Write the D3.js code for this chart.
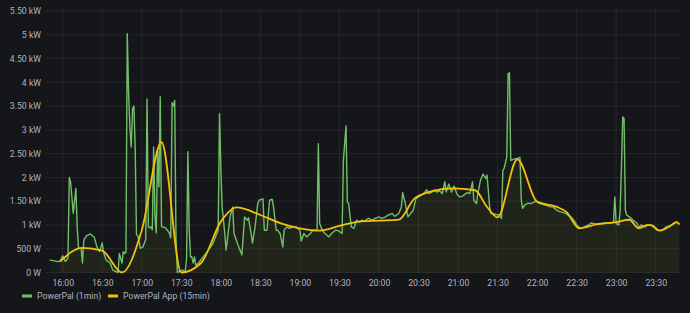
<!DOCTYPE html>
<html>
<head>
<meta charset="utf-8">
<script src="https://cdn.jsdelivr.net/npm/d3@7"></script>
<style>
  html, body { margin: 0; padding: 0; background: #141619; }
  svg { display: block; }
  text { font-family: Roboto, Inter, "Noto Sans", sans-serif; }
</style>
</head>
<body>
<div id="chart"></div>
<script>
// PowerPal (1min) readings, W
var palTimes = ["15:50","15:53","15:56","15:58","16:00","16:02","16:04","16:05","16:06","16:08","16:10","16:11","16:12","16:14","16:15","16:16","16:18","16:21","16:24","16:26","16:28","16:30","16:31","16:33","16:36","16:38","16:42","16:43","16:45","16:46","16:47","16:48","16:49","16:50","16:51","16:52","16:53","16:54","16:55","16:56","16:57","16:59","17:01","17:03","17:04","17:05","17:06","17:07","17:08","17:09","17:10","17:11","17:12","17:13","17:14","17:15","17:16","17:18","17:21","17:22","17:23","17:24","17:25","17:26","17:27","17:29","17:31","17:33","17:34","17:35","17:36","17:37","17:38","17:39","17:40","17:41","17:43","17:50","17:54","17:57","17:58","17:59","18:00","18:01","18:03","18:04","18:07","18:09","18:10","18:13","18:16","18:18","18:20","18:21","18:23","18:24","18:26","18:28","18:29","18:32","18:33","18:35","18:37","18:39","18:40","18:42","18:43","18:45","18:47","18:48","18:50","18:52","18:55","18:57","19:00","19:01","19:03","19:05","19:08","19:10","19:13","19:14","19:15","19:17","19:19","19:22","19:24","19:27","19:29","19:32","19:33","19:35","19:36","19:37","19:39","19:41","19:43","19:45","19:47","19:49","19:52","19:55","19:57","20:00","20:02","20:05","20:07","20:10","20:12","20:15","20:17","20:18","20:20","20:22","20:24","20:26","20:28","20:30","20:32","20:35","20:36","20:38","20:40","20:42","20:44","20:46","20:48","20:50","20:51","20:53","20:55","20:57","20:59","21:01","21:03","21:04","21:07","21:09","21:11","21:12","21:14","21:15","21:17","21:19","21:21","21:22","21:24","21:25","21:27","21:29","21:31","21:32","21:33","21:34","21:35","21:37","21:38","21:39","21:40","21:41","21:43","21:46","21:47","21:48","21:49","21:51","21:53","21:55","21:58","21:59","22:01","22:05","22:07","22:10","22:12","22:15","22:17","22:20","22:22","22:24","22:25","22:28","22:30","22:33","22:35","22:39","22:41","22:44","22:48","22:52","22:56","22:58","22:59","23:00","23:02","23:03","23:04","23:05","23:06","23:07","23:08","23:10","23:13","23:16","23:17","23:19","23:22","23:24","23:27","23:29","23:31","23:33","23:36","23:38","23:41","23:43","23:46","23:48"];
var palValues = [260,250,230,240,350,230,300,2000,1900,1250,1770,960,510,510,200,680,770,810,740,540,440,620,420,260,200,50,0,400,200,440,400,420,5020,3770,3060,2640,3450,3500,2640,800,770,510,540,700,3650,960,940,960,900,2640,1200,830,2540,1800,3700,960,960,940,830,730,3570,3500,3620,700,0,30,50,20,300,2540,900,330,330,200,330,150,200,450,610,820,900,3340,2200,1380,820,470,1170,1380,820,580,370,1170,1100,1150,820,620,960,1450,1520,1550,890,890,1520,1540,1380,890,890,820,540,890,960,930,960,960,890,660,820,750,820,890,890,2710,1030,890,820,750,820,890,880,820,2360,3080,1480,1450,960,930,1100,1060,1100,1080,1140,1100,1140,1170,1140,1170,1210,1240,1180,1240,1380,1680,1450,1170,1240,1310,1550,1590,1620,1690,1740,1660,1690,1740,1690,1720,1660,1910,1690,1860,1690,1820,1660,1590,1600,1620,1680,1660,1910,1520,1450,1660,1940,2070,1980,2050,1380,1240,1240,1220,1210,1170,1140,2150,2190,2430,4180,4200,2360,2370,2390,2410,2420,1520,1350,1430,1460,1450,1480,1520,1460,1430,1410,1380,1380,1310,1280,1260,1240,1190,1190,1100,1000,930,950,1000,1040,1020,1030,1040,1040,1060,1590,1030,1000,1300,2220,3270,3240,1310,1210,1170,1100,1030,940,1000,960,1000,990,950,890,880,910,960,980,1020,1060,1020];

// PowerPal App (15min) readings, W
var appTimes = ["15:58","16:15","16:30","16:45","17:00","17:15","17:30","17:45","18:00","18:12","18:30","18:45","19:00","19:15","19:30","19:45","20:00","20:15","20:27","20:39","20:56","21:13","21:22","21:30","21:45","22:00","22:15","22:22","22:32","22:45","23:00","23:10","23:17","23:24","23:27","23:33","23:41","23:46","23:48"];
var appValues = [230,520,460,0,890,2740,0,200,1070,1370,1210,1040,930,880,980,1070,1090,1110,1560,1700,1770,1730,1380,1160,2380,1490,1380,1280,930,1010,1060,1110,930,1000,990,880,980,1060,1010];

var yTicks = [0,500,1000,1500,2000,2500,3000,3500,4000,4500,5000,5500];
var seriesNames = ["PowerPal (1min)", "PowerPal App (15min)"];
var seriesColors = ["#73BF69", "#F2C00C"];

var width = 690, height = 313;
var plotLeft = 45, plotRight = 681, plotTop = 11, plotBottom = 272.5;
var labelColor = "rgba(204,204,220,0.88)";
var fontSize = "8.7px";

var parseT = d3.timeParse("%Y-%m-%d %H:%M:%S");
function toDate(t){ return parseT("2021-06-01 " + t + ":00"); }

var pal = palTimes.map(function(t, i){ return {t: toDate(t), v: palValues[i]}; });
var app = appTimes.map(function(t, i){ return {t: toDate(t), v: appValues[i]}; });

var x = d3.scaleTime()
    .domain([parseT("2021-06-01 15:46:34"), parseT("2021-06-01 23:49:12")])
    .range([plotLeft, plotRight]);
var y = d3.scaleLinear().domain([0, 5500]).range([plotBottom, plotTop]);

var svg = d3.select("#chart").append("svg")
    .attr("width", width)
    .attr("height", height);

svg.append("rect").attr("width", width).attr("height", height).attr("fill", "#141619");

function fmtW(v){
    if (v < 1000) return v + " W";
    var k = v / 1000;
    return (k % 1 === 0 ? k : k.toFixed(2)) + " kW";
}

// grid
var xTicks = x.ticks(d3.timeMinute.every(30));
svg.append("g")
    .selectAll("line")
    .data(yTicks)
    .enter().append("line")
    .attr("x1", plotLeft).attr("x2", plotRight)
    .attr("y1", function(d){ return y(d); })
    .attr("y2", function(d){ return y(d); })
    .attr("stroke", "rgba(204,204,220,0.09)");
svg.append("g")
    .selectAll("line")
    .data(xTicks)
    .enter().append("line")
    .attr("x1", function(d){ return x(d); })
    .attr("x2", function(d){ return x(d); })
    .attr("y1", 7).attr("y2", plotBottom)
    .attr("stroke", "rgba(204,204,220,0.09)");

// y axis labels
var yAxis = d3.axisLeft(y).tickValues(yTicks).tickFormat(fmtW).tickSize(0).tickPadding(4);
var gy = svg.append("g").attr("transform", "translate(" + plotLeft + ",0)").call(yAxis);
gy.select(".domain").remove();
gy.selectAll("text").attr("fill", labelColor).style("font-size", fontSize);

// x axis labels
var xAxis = d3.axisBottom(x).tickValues(xTicks).tickFormat(d3.timeFormat("%H:%M")).tickSize(0).tickPadding(7.5);
var gx = svg.append("g").attr("transform", "translate(0," + plotBottom + ")").call(xAxis);
gx.select(".domain").remove();
gx.selectAll("text").attr("fill", labelColor).style("font-size", fontSize);

// fills
var palArea = d3.area().x(function(d){ return x(d.t); }).y0(y(0)).y1(function(d){ return y(d.v); });
var appArea = d3.area().curve(d3.curveMonotoneX).x(function(d){ return x(d.t); }).y0(y(0)).y1(function(d){ return y(d.v); });
svg.append("path").datum(pal).attr("d", palArea).attr("fill", "rgba(115,191,105,0.05)");
svg.append("path").datum(app).attr("d", appArea).attr("fill", "rgba(242,192,12,0.04)");

// lines
var palLine = d3.line().x(function(d){ return x(d.t); }).y(function(d){ return y(d.v); });
var appLine = d3.line().curve(d3.curveMonotoneX).x(function(d){ return x(d.t); }).y(function(d){ return y(d.v); });
svg.append("path").datum(pal).attr("d", palLine)
    .attr("fill", "none").attr("stroke", seriesColors[0]).attr("stroke-width", 1.4).attr("stroke-linejoin", "round");
svg.append("path").datum(app).attr("d", appLine)
    .attr("fill", "none").attr("stroke", seriesColors[1]).attr("stroke-width", 1.8);

// legend
var legendX = [22, 108];
var lg = svg.append("g").selectAll("g")
    .data(seriesNames)
    .enter().append("g")
    .attr("transform", function(d, i){ return "translate(" + legendX[i] + ",296)"; });
lg.append("rect")
    .attr("x", 0).attr("y", -1.5).attr("width", 10).attr("height", 3)
    .attr("fill", function(d, i){ return seriesColors[i]; });
lg.append("text")
    .attr("x", 15).attr("dy", "0.35em")
    .attr("fill", labelColor)
    .style("font-size", fontSize)
    .text(function(d){ return d; });
</script>
</body>
</html>
